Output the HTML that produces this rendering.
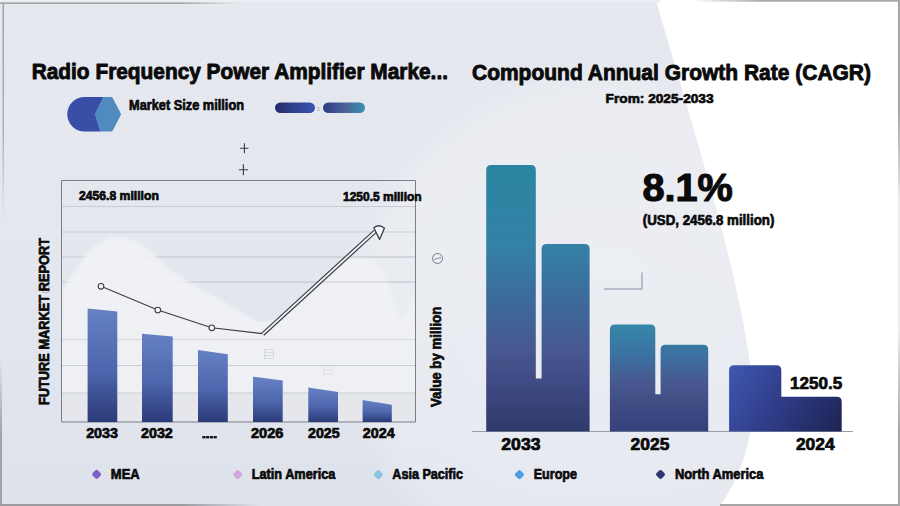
<!DOCTYPE html>
<html><head><meta charset="utf-8">
<style>
html,body{margin:0;padding:0;width:900px;height:506px;overflow:hidden;background:#e5e7ee;}
svg{position:absolute;left:0;top:0;}
text{font-family:"Liberation Sans",sans-serif;font-weight:bold;fill:#0a0a0a;stroke:#0a0a0a;stroke-width:0.7px;stroke-linejoin:round;}
</style></head><body>
<svg width="900" height="506" viewBox="0 0 900 506">
<defs>
  <linearGradient id="f257" gradientUnits="userSpaceOnUse" x1="140" y1="0" x2="180" y2="0"><stop offset="0" stop-color="#c9ccd3" stop-opacity="0"/><stop offset="1" stop-color="#c9ccd3" stop-opacity="0.85"/></linearGradient>
  <linearGradient id="f282" gradientUnits="userSpaceOnUse" x1="170" y1="0" x2="215" y2="0"><stop offset="0" stop-color="#c9ccd3" stop-opacity="0"/><stop offset="1" stop-color="#c9ccd3" stop-opacity="0.85"/></linearGradient>
  <linearGradient id="rb" gradientUnits="userSpaceOnUse" x1="0" y1="0" x2="0" y2="506"><stop offset="0" stop-color="#a6a6a6"/><stop offset="0.22" stop-color="#a6a6a6"/><stop offset="0.4" stop-color="#a6a6a6" stop-opacity="0.2"/><stop offset="0.65" stop-color="#a6a6a6" stop-opacity="0.2"/><stop offset="0.85" stop-color="#a6a6a6"/><stop offset="1" stop-color="#a6a6a6"/></linearGradient>
  <linearGradient id="trb" gradientUnits="userSpaceOnUse" x1="690" y1="0" x2="900" y2="0"><stop offset="0" stop-color="#a8a8a8" stop-opacity="0"/><stop offset="0.35" stop-color="#a8a8a8"/><stop offset="1" stop-color="#a8a8a8"/></linearGradient>
  <linearGradient id="g314" gradientUnits="userSpaceOnUse" x1="62" y1="0" x2="150" y2="0"><stop offset="0" stop-color="#c9ccd3"/><stop offset="0.6" stop-color="#c9ccd3"/><stop offset="1" stop-color="#c9ccd3" stop-opacity="0"/></linearGradient>
  <linearGradient id="leftb" gradientUnits="userSpaceOnUse" x1="0" y1="0" x2="0" y2="220"><stop offset="0" stop-color="#8e9098"/><stop offset="0.6" stop-color="#8e9098" stop-opacity="0.8"/><stop offset="1" stop-color="#8e9098" stop-opacity="0"/></linearGradient>
  <linearGradient id="leftb2" gradientUnits="userSpaceOnUse" x1="0" y1="360" x2="0" y2="506"><stop offset="0" stop-color="#a0a2a8" stop-opacity="0"/><stop offset="0.5" stop-color="#a0a2a8"/><stop offset="1" stop-color="#a0a2a8"/></linearGradient>
  <linearGradient id="bgg" x1="0" y1="0" x2="0" y2="1"><stop offset="0" stop-color="#e6e8ef"/><stop offset="0.5" stop-color="#e4e7ee"/><stop offset="1" stop-color="#dee2eb"/></linearGradient>
  <linearGradient id="mfade" gradientUnits="userSpaceOnUse" x1="0" y1="235" x2="0" y2="393"><stop offset="0" stop-color="#f0f1f5" stop-opacity="1"/><stop offset="0.6" stop-color="#f0f1f5" stop-opacity="0.95"/><stop offset="0.7" stop-color="#f0f1f5" stop-opacity="0"/></linearGradient>
  <filter id="blur2" x="-10%" y="-10%" width="120%" height="120%"><feGaussianBlur stdDeviation="1.6"/></filter>
  <linearGradient id="topb" gradientUnits="userSpaceOnUse" x1="0" y1="0" x2="240" y2="0"><stop offset="0" stop-color="#8e9096"/><stop offset="0.75" stop-color="#8e9096"/><stop offset="1" stop-color="#8e9096" stop-opacity="0"/></linearGradient>
  <linearGradient id="botb" gradientUnits="userSpaceOnUse" x1="0" y1="0" x2="260" y2="0"><stop offset="0" stop-color="#9a9ca2"/><stop offset="0.7" stop-color="#9a9ca2"/><stop offset="1" stop-color="#9a9ca2" stop-opacity="0"/></linearGradient>
  <linearGradient id="lbar" x1="0" y1="0" x2="0" y2="1">
    <stop offset="0" stop-color="#6581c4"/>
    <stop offset="0.55" stop-color="#4d66ad"/>
    <stop offset="1" stop-color="#2c3a78"/>
  </linearGradient>
  <linearGradient id="g1" gradientUnits="userSpaceOnUse" x1="0" y1="165" x2="0" y2="431">
    <stop offset="0" stop-color="#2a86a0"/>
    <stop offset="0.3" stop-color="#3481a6"/>
    <stop offset="0.5" stop-color="#3c6b9c"/>
    <stop offset="0.7" stop-color="#48578f"/>
    <stop offset="0.85" stop-color="#3c4780"/>
    <stop offset="1" stop-color="#2f3a6b"/>
  </linearGradient>
  <linearGradient id="g2" gradientUnits="userSpaceOnUse" x1="0" y1="324" x2="0" y2="431">
    <stop offset="0" stop-color="#3488aa"/>
    <stop offset="0.3" stop-color="#3c70a0"/>
    <stop offset="0.55" stop-color="#48578f"/>
    <stop offset="0.8" stop-color="#3e4a82"/>
    <stop offset="1" stop-color="#34407a"/>
  </linearGradient>
  <linearGradient id="g3" gradientUnits="userSpaceOnUse" x1="729" y1="365" x2="842" y2="431">
    <stop offset="0" stop-color="#3f57b0"/>
    <stop offset="0.5" stop-color="#2e3b86"/>
    <stop offset="1" stop-color="#1d2452"/>
  </linearGradient>
  <linearGradient id="pill1" x1="0" y1="0" x2="1" y2="0">
    <stop offset="0" stop-color="#232c6a"/>
    <stop offset="1" stop-color="#3b55b4"/>
  </linearGradient>
  <linearGradient id="pill2" x1="0" y1="0" x2="1" y2="0">
    <stop offset="0" stop-color="#2c3c88"/>
    <stop offset="0.5" stop-color="#4c5f98"/>
    <stop offset="1" stop-color="#3a92b0"/>
  </linearGradient>
  <radialGradient id="glow" cx="600" cy="330" r="265" gradientUnits="userSpaceOnUse">
    <stop offset="0" stop-color="#ffffff" stop-opacity="0.3"/>
    <stop offset="0.88" stop-color="#ffffff" stop-opacity="0.22"/>
    <stop offset="1" stop-color="#ffffff" stop-opacity="0"/>
  </radialGradient>
</defs>

<!-- background -->
<rect x="0" y="0" width="900" height="506" fill="url(#bgg)"/>
<rect x="0" y="0" width="900" height="506" fill="url(#glow)"/>
<path d="M656,0 L900,0 L900,506 L720,506 C745,470 756,430 752,380 C740,270 690,120 656,0 Z" fill="#ffffff"/>

<!-- frame border -->
<rect x="0" y="0" width="660" height="2.5" fill="#eceef2"/>
<path d="M0,3.2 L240,3.2" stroke="url(#topb)" stroke-width="1.3"/>
<path d="M3.2,3.2 L3.2,220" stroke="url(#leftb)" stroke-width="1.2"/>
<path d="M1,360 L1,506" stroke="url(#leftb2)" stroke-width="2"/>
<path d="M0,505 L260,505" stroke="url(#botb)" stroke-width="2"/>
<path d="M690,0.8 L900,0.8" stroke="url(#trb)" stroke-width="1.8"/>
<path d="M899,0 L899,506" stroke="url(#rb)" stroke-width="2"/>
<path d="M720,505 L900,505" stroke="#a6a6a6" stroke-width="2"/>
<!-- market size icon -->
<path d="M84.5,97 L103.5,97 L95.5,114 L100.5,131.5 L84.5,131.5 A17.25,17.25 0 0 1 84.5,97 Z" fill="#3a4ea8"/>
<path d="M104.2,98.6 L111.2,98.6 L119.4,114.2 L111.2,130 L101.2,130 L96.6,114.2 Z" fill="#4f8bbf" stroke="#4f8bbf" stroke-width="3.2" stroke-linejoin="round"/>

<!-- pills -->
<rect x="275" y="102.5" width="40" height="10.5" rx="5.25" fill="url(#pill1)"/>
<rect x="323" y="102.5" width="42" height="10.5" rx="5.25" fill="url(#pill2)"/>
<text x="316.8" y="110.5" style="font-size:6px;font-weight:normal;fill:#9a9ea8;stroke:none">1</text>

<!-- plus signs -->
<path d="M240,148.3 L248.5,148.3 M244.4,143.3 L244.4,153.3" stroke="#3a3c44" stroke-width="1.1"/>
<path d="M239,169.8 L248,169.8 M243.4,164.3 L243.4,175.3" stroke="#3a3c44" stroke-width="1.1"/>

<!-- left chart -->
<g>
  <rect x="61.5" y="393" width="354" height="29" fill="#e5e7ed"/>
  <rect x="62" y="322" width="353" height="71" fill="#eef0f4"/>
  <g stroke="#c9ccd3" stroke-width="1">
    <line x1="62" y1="206.5" x2="415" y2="206.5"/>
    <line x1="62" y1="232" x2="415" y2="232"/>
    <line x1="62" y1="257" x2="415" y2="257"/>
    <line x1="62" y1="282" x2="415" y2="282"/>
    <line x1="62" y1="314" x2="150" y2="314" stroke="url(#g314)"/>
    <line x1="62" y1="339.5" x2="415" y2="339.5"/>
    <line x1="62" y1="365.5" x2="415" y2="365.5"/>
    <line x1="62" y1="393" x2="415" y2="393"/>
  </g>
  <path d="M62,291 C75,268 95,238 115,237 C135,236 150,250 165,265 C185,283 225,300 262,325 C280,318 290,308 304,300 C318,290 330,270 345,261 C360,255 375,257 384,275 C390,285 396,305 401,322 C405,315 410,305 415,300 L415,393 L62,393 Z" fill="url(#mfade)" filter="url(#blur2)"/>
  <g stroke="#c9ccd3" stroke-width="1">
    <line x1="140" y1="257" x2="415" y2="257" stroke="url(#f257)"/>
    <line x1="170" y1="282" x2="415" y2="282" stroke="url(#f282)"/>
  </g>
  <path d="M61.5,422 L61.5,180.5 L415.5,180.5 L415.5,422 Z" fill="none" stroke="#7a7e86" stroke-width="1"/>
  <!-- bars -->
  <path d="M87.6,308.4 L117.3,311.5 L117.3,422 L87.6,422 Z" fill="url(#lbar)"/>
  <path d="M142,333.7 L172.7,336.5 L172.7,422 L142,422 Z" fill="url(#lbar)"/>
  <path d="M198,350 L227.8,354.2 L227.8,422 L198,422 Z" fill="url(#lbar)"/>
  <path d="M253,376.7 L282.7,380.5 L282.7,422 L253,422 Z" fill="url(#lbar)"/>
  <path d="M308.3,387.6 L338,392.1 L338,422 L308.3,422 Z" fill="url(#lbar)"/>
  <path d="M362.6,400 L391.8,404.7 L391.8,422 L362.6,422 Z" fill="url(#lbar)"/>
  <!-- line -->
  <path d="M101,286.3 L157.8,310 L211.8,327.8 L262,333.6" fill="none" stroke="#3c3e46" stroke-width="1.15"/>
  <g fill="#f4f5f8" stroke="#3c3e46" stroke-width="1.1">
    <circle cx="101" cy="286.3" r="2.8"/>
    <circle cx="157.8" cy="310" r="2.8"/>
    <circle cx="211.8" cy="327.8" r="2.8"/>
  </g>
  <!-- arrow -->
  <path d="M262.8,334.2 L375,231.5" fill="none" stroke="#3c3e46" stroke-width="4.2" stroke-linecap="butt"/>
  <path d="M262.8,334.2 L375,231.5" fill="none" stroke="#f4f5f8" stroke-width="1.8"/>
  <path d="M373.8,227.8 Q379,223.5 384.4,228.2 L379.6,239.4 Z" fill="#f6f7fa" stroke="#3c3e46" stroke-width="1.3" stroke-linejoin="round"/>
</g>

<!-- faint circle icons -->
<circle cx="45.8" cy="289" r="4" fill="none" stroke="#8a8e96" stroke-width="0.9" opacity="0.7"/>
<g fill="none" stroke="#c4c8d0" stroke-width="0.8" opacity="0.7">
  <rect x="264.5" y="349.5" width="9" height="9"/>
  <line x1="264.5" y1="352.5" x2="273.5" y2="352.5"/>
  <line x1="264.5" y1="355.5" x2="273.5" y2="355.5"/>
  <rect x="323.5" y="365.5" width="8.5" height="9" opacity="0.6"/>
  <line x1="323.5" y1="370" x2="332" y2="370" opacity="0.6"/>
</g>
<circle cx="437.5" cy="258.5" r="5" fill="none" stroke="#7a7e88" stroke-width="1"/>
<path d="M434,259.5 L441,257.5" stroke="#7a7e88" stroke-width="0.8"/>

<!-- right chart -->
<line x1="472" y1="431.5" x2="853" y2="431.5" stroke="#9a9ea8" stroke-width="1.2"/>
<path d="M486.2,431.5 L486.2,170 Q486.2,165 491.2,165 L530.8,165 Q535.8,165 535.8,170 L535.8,378.4 L541.6,378.4 L541.6,249 Q541.6,244 546.6,244 L584.6,244 Q589.6,244 589.6,249 L589.6,431.5 Z" fill="url(#g1)"/>
<path d="M609.9,431.5 L609.9,329.5 Q609.9,324.5 614.9,324.5 L650.3,324.5 Q655.3,324.5 655.3,329.5 L655.3,394.2 L660.6,394.2 L660.6,349.7 Q660.6,344.7 665.6,344.7 L703.2,344.7 Q708.2,344.7 708.2,349.7 L708.2,431.5 Z" fill="url(#g2)"/>
<path d="M729.1,431.5 L729.1,370.2 Q729.1,365.2 734.1,365.2 L776.3,365.2 Q781.3,365.2 781.3,370.2 L781.3,396.7 L836.7,396.7 Q841.7,396.7 841.7,401.7 L841.7,431.5 Z" fill="url(#g3)"/>
<path d="M603.8,289 L642,289 L642,272.5" fill="none" stroke="#7a80a0" stroke-width="0.9"/>

<!-- legend diamonds -->
<rect x="93.0" y="470.6" width="7.4" height="7.4" rx="1.9" transform="rotate(45 96.6 474.2)" fill="#7b5ec8"/>
<rect x="234.1" y="470.8" width="7.4" height="7.4" rx="1.9" transform="rotate(45 237.7 474.4)" fill="#d0a6dc"/>
<rect x="374.7" y="470.8" width="7.4" height="7.4" rx="1.9" transform="rotate(45 378.3 474.4)" fill="#8ac3e2"/>
<rect x="515.8" y="470.8" width="7.4" height="7.4" rx="1.9" transform="rotate(45 519.4 474.4)" fill="#4a9de0"/>
<rect x="656.9" y="470.7" width="7.4" height="7.4" rx="1.9" transform="rotate(45 660.5 474.3)" fill="#2d346e"/>

<!-- texts -->
<text x="31.7" y="79.4" textLength="416.3" lengthAdjust="spacingAndGlyphs" style="font-size:22px;stroke-width:0.9px">Radio Frequency Power Amplifier Marke...</text>
<text x="472" y="79.7" textLength="399" lengthAdjust="spacingAndGlyphs" style="font-size:22.5px;stroke-width:0.9px">Compound Annual Growth Rate (CAGR)</text>
<text x="129" y="109.5" textLength="115" lengthAdjust="spacingAndGlyphs" style="font-size:14px">Market Size million</text>
<text x="78.9" y="200.3" textLength="80" lengthAdjust="spacingAndGlyphs" style="font-size:12px">2456.8 million</text>
<text x="343" y="201.2" textLength="78.6" lengthAdjust="spacingAndGlyphs" style="font-size:12px">1250.5 million</text>
<text transform="translate(49,405) rotate(-90)" x="0" y="0" textLength="167" lengthAdjust="spacingAndGlyphs" style="font-size:15px">FUTURE MARKET REPORT</text>
<text transform="translate(441.3,407) rotate(-90)" x="0" y="0" textLength="100.3" lengthAdjust="spacingAndGlyphs" style="font-size:15px">Value by million</text>

<text x="86.2" y="438.1" textLength="31.7" lengthAdjust="spacingAndGlyphs" style="font-size:14px">2033</text>
<text x="141" y="438.1" textLength="31.8" lengthAdjust="spacingAndGlyphs" style="font-size:14px">2032</text>
<g fill="#1a1a1a"><rect x="202.3" y="436" width="3.2" height="2.4"/><rect x="206" y="436" width="3.2" height="2.4"/><rect x="209.8" y="436" width="3.2" height="2.4"/><rect x="213.6" y="436" width="3.2" height="2.4"/></g>
<text x="251" y="437.9" textLength="32.4" lengthAdjust="spacingAndGlyphs" style="font-size:14px">2026</text>
<text x="308" y="437.9" textLength="31.6" lengthAdjust="spacingAndGlyphs" style="font-size:14px">2025</text>
<text x="362.8" y="437.9" textLength="31.8" lengthAdjust="spacingAndGlyphs" style="font-size:14px">2024</text>

<text x="605.6" y="103.4" textLength="108" lengthAdjust="spacingAndGlyphs" style="font-size:13.7px">From: 2025-2033</text>
<text x="642.4" y="201.4" textLength="90.4" lengthAdjust="spacingAndGlyphs" style="font-size:38px;stroke-width:1.1px">8.1%</text>
<text x="642.8" y="224.9" textLength="131.6" lengthAdjust="spacingAndGlyphs" style="font-size:14.5px">(USD, 2456.8 million)</text>

<text x="501.3" y="450.3" textLength="39.2" lengthAdjust="spacingAndGlyphs" style="font-size:16.5px">2033</text>
<text x="630.6" y="450" textLength="38.8" lengthAdjust="spacingAndGlyphs" style="font-size:16.5px">2025</text>
<text x="795.9" y="450.4" textLength="38.7" lengthAdjust="spacingAndGlyphs" style="font-size:16.5px">2024</text>
<text x="790" y="389.1" textLength="52.2" lengthAdjust="spacingAndGlyphs" style="font-size:16.5px">1250.5</text>

<text x="110.8" y="478.7" textLength="28.9" lengthAdjust="spacingAndGlyphs" style="font-size:14.5px">MEA</text>
<text x="251.7" y="478.7" textLength="83.7" lengthAdjust="spacingAndGlyphs" style="font-size:14.5px">Latin America</text>
<text x="392.3" y="478.7" textLength="70.7" lengthAdjust="spacingAndGlyphs" style="font-size:14.5px">Asia Pacific</text>
<text x="533.7" y="478.7" textLength="43.3" lengthAdjust="spacingAndGlyphs" style="font-size:14.5px">Europe</text>
<text x="674.9" y="478.7" textLength="88.6" lengthAdjust="spacingAndGlyphs" style="font-size:14.5px">North America</text>
</svg>
</body></html>
